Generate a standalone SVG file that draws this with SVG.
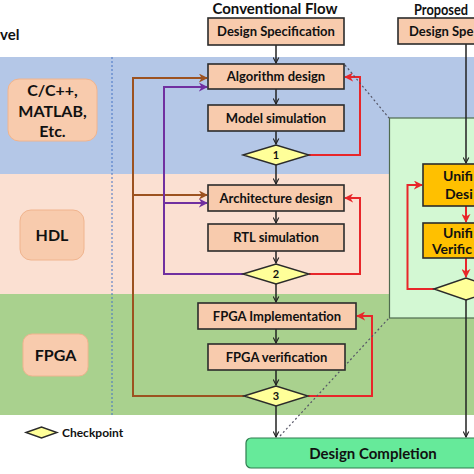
<svg xmlns="http://www.w3.org/2000/svg" width="474" height="474" viewBox="0 0 474 474">
<defs>
<style>
.t{font-family:Lato,"Liberation Sans",sans-serif;font-weight:bold;fill:#111}
.node{fill:#F8CBAD;stroke:#2b2b2b;stroke-width:1.6}
.lab{fill:#F8CBAD;stroke:#F0B48E;stroke-width:1}
.dia{fill:#FFFF99;stroke:#2b2b2b;stroke-width:1.4}
.uni{fill:#FFC000;stroke:#2b2b2b;stroke-width:1.6}
.blk{fill:none;stroke:#222;stroke-width:1.5}
.red{fill:none;stroke:#E8262A;stroke-width:2}
.brn{fill:none;stroke:#9C5220;stroke-width:2}
.pur{fill:none;stroke:#7030A0;stroke-width:2}
.dot{fill:none;stroke:#556;stroke-width:1.2;stroke-dasharray:2 2.5}
</style>
<marker id="ab" viewBox="0 0 10 10" refX="9" refY="5" markerWidth="7" markerHeight="7" markerUnits="userSpaceOnUse" orient="auto"><path d="M1,1 L9,5 L1,9" fill="none" stroke="#222" stroke-width="1.6"/></marker>
<marker id="ar" viewBox="0 0 10 10" refX="9" refY="5" markerWidth="9" markerHeight="9" markerUnits="userSpaceOnUse" orient="auto"><path d="M0,0 L10,5 L0,10 L3,5 Z" fill="#E8262A"/></marker>
<marker id="an" viewBox="0 0 10 10" refX="9" refY="5" markerWidth="9" markerHeight="9" markerUnits="userSpaceOnUse" orient="auto"><path d="M0,0 L10,5 L0,10 L3,5 Z" fill="#9C5220"/></marker>
<marker id="ap" viewBox="0 0 10 10" refX="9" refY="5" markerWidth="9" markerHeight="9" markerUnits="userSpaceOnUse" orient="auto"><path d="M0,0 L10,5 L0,10 L3,5 Z" fill="#7030A0"/></marker>
</defs>
<rect width="474" height="474" fill="#fff"/>
<g id="bands">
<rect x="0" y="57" width="474" height="117" fill="#B4C7E7"/>
<rect x="0" y="174" width="474" height="120" fill="#FBE0D2"/>
<rect x="0" y="294" width="474" height="121" fill="#A9D18E"/>
<line x1="112" y1="57" x2="112" y2="415" stroke="#4472C4" stroke-width="1" stroke-dasharray="2 2"/>
</g>
<g id="proposed-area">
<rect x="389.5" y="118" width="100" height="200" fill="#D3F8D3" stroke="#4F6B4F" stroke-width="1.2"/>
</g>
<g id="titles">
<text class="t" x="0" y="40" font-size="15">vel</text>
<text class="t" x="275" y="14" font-size="15" text-anchor="middle">Conventional Flow</text>
<text class="t" x="414" y="15" font-size="14.5" textLength="54" lengthAdjust="spacingAndGlyphs">Proposed</text>
</g>
<g id="label-c">
<rect class="lab" x="8" y="79" width="89" height="62" rx="11"/>
<text class="t" x="52.5" y="96" font-size="16" text-anchor="middle">C/C++,</text>
<text class="t" x="52.5" y="117" font-size="16" text-anchor="middle">MATLAB,</text>
<text class="t" x="52.5" y="137" font-size="16" text-anchor="middle">Etc.</text>
</g>
<g id="label-hdl">
<rect class="lab" x="20" y="210" width="64" height="50" rx="11"/>
<text class="t" x="52" y="241" font-size="16" text-anchor="middle">HDL</text>
</g>
<g id="label-fpga">
<rect class="lab" x="23" y="334" width="65" height="42" rx="9"/>
<text class="t" x="55.5" y="361" font-size="16" text-anchor="middle">FPGA</text>
</g>
<g id="connectors">
<path class="blk" d="M276,45 V63" marker-end="url(#ab)"/>
<path class="blk" d="M276,89 V104" marker-end="url(#ab)"/>
<path class="blk" d="M276,131 V144" marker-end="url(#ab)"/>
<path class="blk" d="M276,165 V184" marker-end="url(#ab)"/>
<path class="blk" d="M276,211 V223" marker-end="url(#ab)"/>
<path class="blk" d="M276,251 V263" marker-end="url(#ab)"/>
<path class="blk" d="M276,284 V302" marker-end="url(#ab)"/>
<path class="blk" d="M276,329 V343" marker-end="url(#ab)"/>
<path class="blk" d="M276,370 V385" marker-end="url(#ab)"/>
<path class="blk" d="M276,406 V437" marker-end="url(#ab)"/>
<path class="red" d="M308,155 H360 V77 H345" marker-end="url(#ar)"/>
<path class="red" d="M309,274 H360 V198 H345" marker-end="url(#ar)"/>
<path class="red" d="M308,396 H372 V316 H357" marker-end="url(#ar)"/>
<path class="brn" d="M244,396 H133 V78 H207" marker-end="url(#an)"/>
<path class="brn" d="M133,195 H207" marker-end="url(#an)"/>
<path class="pur" d="M244,274 H164 V87 H207" marker-end="url(#ap)"/>
<path class="pur" d="M164,203 H207" marker-end="url(#ap)"/>
<path class="blk" d="M466,44 V163" marker-end="url(#ab)"/>
<path class="red" d="M466,206 V222" stroke-width="1.5" marker-end="url(#ar)"/>
<path class="red" d="M466,258 V277" stroke-width="1.5" marker-end="url(#ar)"/>
<path class="red" d="M434,289 H407.5 V185 H422" stroke-width="1.5" marker-end="url(#ar)"/>
<path class="blk" d="M466,300 V437" marker-end="url(#ab)"/>
<path class="dot" d="M345,65 L389,118"/>
<path class="dot" d="M280,436 L389,318"/>
</g>
<g id="spec">
<rect class="node" x="208" y="18" width="136" height="27"/>
<text class="t" x="276" y="36" font-size="13" text-anchor="middle">Design Specification</text>
</g>
<g id="spec2">
<rect class="node" x="398" y="18" width="136" height="26"/>
<text class="t" x="409" y="36" font-size="13">Design Spe</text>
</g>
<g id="alg">
<rect class="node" x="208" y="64" width="136" height="25"/>
<text class="t" x="276" y="81" font-size="13" text-anchor="middle">Algorithm design</text>
</g>
<g id="model">
<rect class="node" x="208" y="105" width="136" height="26"/>
<text class="t" x="276" y="122.5" font-size="13" text-anchor="middle">Model simulation</text>
</g>
<g id="cp1">
<polygon class="dia" points="243,155 276,145 309,155 276,165"/>
<text class="t" x="276" y="159" font-size="11" text-anchor="middle">1</text>
</g>
<g id="arch">
<rect class="node" x="208" y="185" width="136" height="26"/>
<text class="t" x="276" y="202.5" font-size="13" text-anchor="middle">Architecture design</text>
</g>
<g id="rtl">
<rect class="node" x="208" y="224" width="136" height="27"/>
<text class="t" x="276" y="242" font-size="13" text-anchor="middle">RTL simulation</text>
</g>
<g id="cp2">
<polygon class="dia" points="243,274 276,264 309,274 276,284"/>
<text class="t" x="276" y="278" font-size="11" text-anchor="middle">2</text>
</g>
<g id="fpgaimpl">
<rect class="node" x="198" y="303" width="158" height="26"/>
<text class="t" x="277" y="320.5" font-size="13" text-anchor="middle">FPGA Implementation</text>
</g>
<g id="fpgaver">
<rect class="node" x="208" y="344" width="137" height="26"/>
<text class="t" x="276.5" y="361.5" font-size="13" text-anchor="middle">FPGA verification</text>
</g>
<g id="cp3">
<polygon class="dia" points="244,396 276,386 308,396 276,406"/>
<text class="t" x="276" y="400" font-size="11" text-anchor="middle">3</text>
</g>
<g id="unidesign">
<rect class="uni" x="423" y="164" width="100" height="42"/>
<text class="t" x="443" y="181" font-size="14">Unifi</text>
<text class="t" x="445" y="199" font-size="14">Desi</text>
</g>
<g id="univer">
<rect class="uni" x="423" y="223" width="100" height="35"/>
<text class="t" x="443" y="238" font-size="14">Unifi</text>
<text class="t" x="432" y="254" font-size="14">Verific</text>
</g>
<g id="cp4">
<polygon class="dia" points="434,289 466,278 498,289 466,300"/>
</g>
<g id="completion">
<rect x="246" y="438" width="254" height="30" rx="5" fill="#66EA9A" stroke="#2E7D4F" stroke-width="1.2"/>
<text class="t" x="373" y="458.5" font-size="15" text-anchor="middle">Design Completion</text>
</g>
<g id="legend">
<polygon class="dia" points="26,432.5 41.5,427 57,432.5 41.5,438"/>
<text class="t" x="62" y="437" font-size="12">Checkpoint</text>
</g>
</svg>
